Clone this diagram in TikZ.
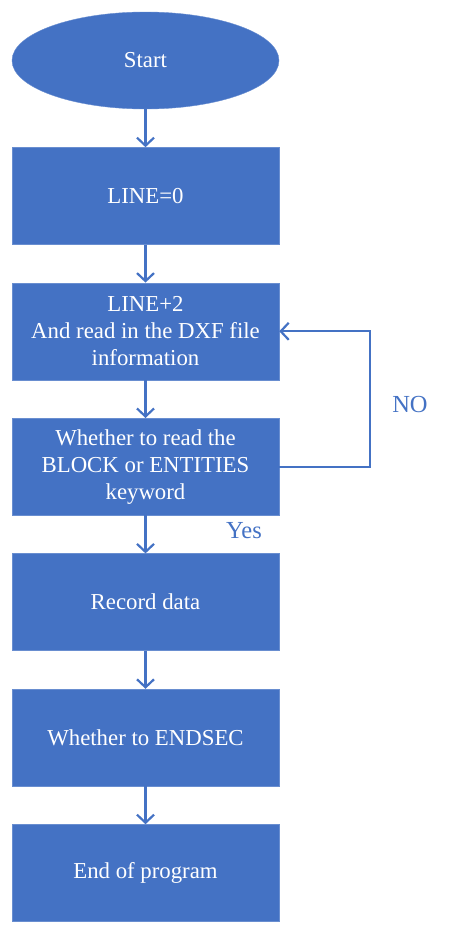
\documentclass[tikz,border=0pt]{standalone}
\usepackage{fontspec}
\setmainfont{Liberation Serif}
\usepackage{xcolor}
\usetikzlibrary{shapes,arrows.meta,positioning}
\definecolor{officeblue}{HTML}{4472C4}

\begin{document}
\begin{tikzpicture}[
    x=1pt, y=1pt,
    node distance=38pt,
    stepbox/.style={rectangle, fill=officeblue, draw=officeblue!80!white, text=white, minimum width=267pt, minimum height=97pt, inner sep=0pt, align=center, font=\fontsize{22.8}{27}\selectfont},
    terminal/.style={ellipse, fill=officeblue, draw=officeblue!80!white, text=white, minimum width=267pt, minimum height=97pt, inner sep=0pt, font=\fontsize{22.8}{27}\selectfont},
    flow/.style={draw=officeblue, line width=2.2pt, -{Straight Barb[length=8pt, width=17pt, line width=2.2pt]}},
    lbl/.style={text=officeblue, font=\fontsize{24.5}{28}\selectfont}
]
\useasboundingbox (0,0) rectangle (468,-932);

\node[terminal] (start) at (145.5,-60.5) {Start};
\node[stepbox, below=of start] (init) {LINE=0};
\node[stepbox, below=of init] (read) {LINE+2\\And read in the DXF file\\information};
\node[stepbox, below=of read] (check) {Whether to read the\\BLOCK or ENTITIES\\keyword};
\node[stepbox, below=of check] (record) {Record data};
\node[stepbox, below=of record] (endsec) {Whether to ENDSEC};
\node[stepbox, below=of endsec] (stop) {End of program};

\draw[flow] (start) -- (init);
\draw[flow] (init) -- (read);
\draw[flow] (read) -- (check);
\draw[flow] (check) -- (record);
\draw[flow] (record) -- (endsec);
\draw[flow] (endsec) -- (stop);
\draw[flow] (check.east) -- ++(91,0) |- (read.east);

\node[lbl] (no) at (410,-405) {NO};
\node[lbl] (yes) at (244,-531) {Yes};

\end{tikzpicture}
\end{document}
